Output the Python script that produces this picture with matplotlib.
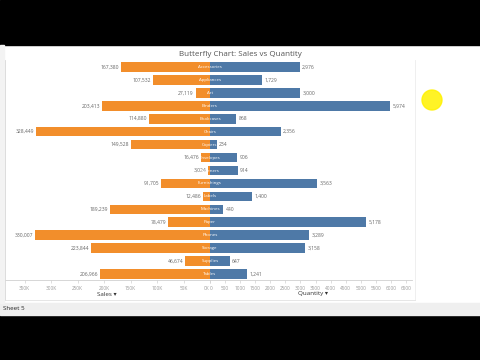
import matplotlib.pyplot as plt
from matplotlib.patches import Rectangle, Ellipse
from matplotlib.lines import Line2D

plt.rcParams['font.family'] = ['Open Sans', 'DejaVu Sans']

# Superstore sub-categories
sub_categories = ['Accessories', 'Appliances', 'Art', 'Binders', 'Bookcases', 'Chairs',
                  'Copiers', 'Envelopes', 'Fasteners', 'Furnishings', 'Labels', 'Machines',
                  'Paper', 'Phones', 'Storage', 'Supplies', 'Tables']
sales = [167380, 107532, 27119, 203413, 114880, 328449, 149528, 16476, 3024,
         91705, 12486, 189239, 78479, 330007, 223844, 46674, 206966]
quantity = [2976, 1729, 3000, 5974, 868, 2356, 234, 906, 914,
            3563, 1400, 440, 5178, 3289, 3158, 647, 1241]
sales_ticks = [0, 50000, 100000, 150000, 200000, 250000, 300000, 350000]
qty_ticks = list(range(0, 7000, 500))

orange = '#f28e2b'
blue = '#4e79a7'
grey_txt = '#666666'

fig = plt.figure(figsize=(4.8, 3.6), dpi=100)
fig.patch.set_facecolor('white')

# screenshot frame: black bands, tab bar, cursor
fig.patches.append(Rectangle((0, 1 - 45 / 360), 1, 45 / 360, transform=fig.transFigure,
                             color='black', zorder=0))
fig.patches.append(Rectangle((0, 0), 1, 45 / 360, transform=fig.transFigure,
                             color='black', zorder=0))
fig.patches.append(Rectangle((0, 45 / 360), 1, 12 / 360, transform=fig.transFigure,
                             color='#efefef', zorder=0))
fig.patches.append(Rectangle((0, 57 / 360), 4 / 480, (303 - 45) / 360, transform=fig.transFigure,
                             color='#f3f3f3', zorder=0))
fig.lines.append(Line2D([5 / 480, 5 / 480], [1 - 300 / 360, 1 - 60 / 360],
                        transform=fig.transFigure, color='#d8d8d8', lw=0.6))
fig.lines.append(Line2D([415 / 480, 415 / 480], [1 - 300 / 360, 1 - 60 / 360],
                        transform=fig.transFigure, color='#ececec', lw=0.6))
fig.lines.append(Line2D([5 / 480, 415 / 480], [1 - 300 / 360, 1 - 300 / 360],
                        transform=fig.transFigure, color='#e2e2e2', lw=0.6))
fig.patches.append(Ellipse((432 / 480, 1 - 100 / 360), 20 / 480, 20 / 360,
                           transform=fig.transFigure, color='#fff200', alpha=0.85, zorder=5))
fig.text(3 / 480, 1 - 309 / 360, 'Sheet 5', fontsize=4.5, color='#222222', va='center')

fig.text(240 / 480, 1 - 54 / 360, 'Butterfly Chart: Sales vs Quantity', fontsize=5.8,
         color='#555555', ha='center', va='center')

bottom = 1 - 280 / 360
height = (280 - 61) / 360
ax_l = fig.add_axes([5 / 480, bottom, 205 / 480, height])
ax_r = fig.add_axes([210 / 480, bottom, 202 / 480, height])

rows = list(range(len(sub_categories)))
ax_l.barh(rows, sales, height=0.74, color=orange)
ax_r.barh(rows, quantity, height=0.74, color=blue)

ax_l.set_xlim(387000, 0)
ax_r.set_xlim(0, 6700)
for ax in (ax_l, ax_r):
    ax.set_ylim(16.46, -0.46)
    ax.set_yticks([])
    ax.set_facecolor('none')
    for s in ('top', 'right', 'left'):
        ax.spines[s].set_visible(False)
    ax.spines['bottom'].set_color('#d0d0d0')
    ax.spines['bottom'].set_linewidth(0.6)
    ax.tick_params(axis='x', labelsize=3.4, colors='#d0d0d0', labelcolor='#999999',
                   length=2, width=0.5, pad=2)

ax_l.set_xticks(sales_ticks)
ax_l.set_xticklabels([f'{t // 1000}K' for t in sales_ticks])
ax_l.get_xticklabels()[0].set_ha('right')
ax_r.set_xticks(qty_ticks)
ax_r.set_xticklabels([str(t) for t in qty_ticks])
ax_r.get_xticklabels()[0].set_ha('left')

for i, (s, q, name) in enumerate(zip(sales, quantity, sub_categories)):
    ax_l.text(s + 4000, i, f'{s:,}', fontsize=3.6, color=grey_txt, ha='right', va='center')
    ax_r.text(q + 70, i, f'{q:,}', fontsize=3.6, color=grey_txt, ha='left', va='center')
    ax_r.text(0, i, name, fontsize=3.2, color='white', ha='center', va='center', clip_on=False)

fig.text(107 / 480, 1 - 294 / 360, 'Sales \u25be', fontsize=4.5, color='#333333',
         ha='center', va='center')
fig.text(313 / 480, 1 - 294 / 360, 'Quantity \u25be', fontsize=4.5, color='#333333',
         ha='center', va='center')

fig.savefig('out.png', dpi=100)
